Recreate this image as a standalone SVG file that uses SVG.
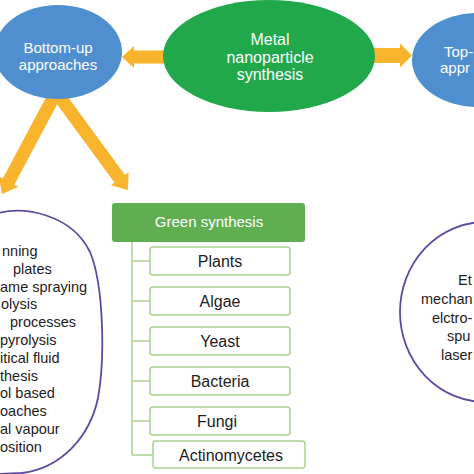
<svg xmlns="http://www.w3.org/2000/svg" width="474" height="474" viewBox="0 0 474 474">
<style>
text{font-family:"Liberation Sans",Arial,sans-serif}
.w{fill:#ffffff;font-size:15px;text-anchor:middle}
.big{font-size:16px}
.arrow{fill:#f8b42c}
.blue{fill:#4f8fd0}
.purple{fill:none;stroke:#5e4a9e;stroke-width:1.8}
.lst{font-size:14.5px;fill:#1e1c1d}
.box{fill:#ffffff;stroke:#a9d18e;stroke-width:1.5}
.bt{font-size:16px;fill:#1e1c1d;text-anchor:middle}
.tree{fill:none;stroke:#a9cf94;stroke-width:1.5}
</style>
<rect width="474" height="474" fill="#ffffff"/>
<g id="connectors">
<polygon class="arrow" points="172,50.5 134,50.5 134,46 122,57 134,68 134,63.5 172,63.5"/>
<polygon class="arrow" points="368,48 400,48 400,43.5 412,55.5 400,67.5 400,63 368,63"/>
<polygon class="arrow" points="48.86,92.05 2.83,178.59 -1.2,176.5 2,194 18.3,186.8 14.31,184.69 60.34,98.15"/>
<polygon class="arrow" points="51.86,97.14 114.49,182.56 110.9,185.2 128,190 128.6,172.2 124.97,174.88 62.34,89.46"/>
<path class="tree" d="M132,242 V455 M132,261 H150 M132,301 H150 M132,341 H150 M132,381 H150 M132,421 H150 M132,455 H153"/>
</g>
<g id="metal-synthesis">
<ellipse cx="269" cy="56" rx="106" ry="56" fill="#21a84b"/>
<text class="w big" x="270" y="45">Metal</text>
<text class="w big" x="270" y="63">nanoparticle</text>
<text class="w big" x="270" y="80">synthesis</text>
</g>
<g id="bottom-up">
<ellipse class="blue" cx="58" cy="52" rx="64" ry="47"/>
<text class="w" x="58" y="53">Bottom-up</text>
<text class="w" x="58" y="70">approaches</text>
</g>
<g id="top-down">
<ellipse class="blue" cx="478" cy="60" rx="66" ry="47"/>
<text class="w" x="444" y="57" style="text-anchor:start">Top-</text>
<text class="w" x="440" y="73" style="text-anchor:start">appr</text>
</g>
<g id="bottom-up-methods">
<path class="purple" d="M-5,214 C25,205 72,215 90,252 C104,285 105,360 98,398 C90,436 62,468 22,473 L-5,474"/>
<text class="lst" x="2" y="256">nning</text>
<text class="lst" x="13" y="273.8">plates</text>
<text class="lst" x="0" y="291.6">ame spraying</text>
<text class="lst" x="1" y="309.4">olysis</text>
<text class="lst" x="10" y="327.2">processes</text>
<text class="lst" x="0" y="345">pyrolysis</text>
<text class="lst" x="0" y="362.8">itical fluid</text>
<text class="lst" x="0" y="380.6">thesis</text>
<text class="lst" x="0" y="398.4">ol based</text>
<text class="lst" x="0" y="416.2">oaches</text>
<text class="lst" x="0" y="434">al vapour</text>
<text class="lst" x="0" y="451.8">osition</text>
</g>
<g id="top-down-methods">
<ellipse class="purple" cx="485" cy="312" rx="85" ry="90"/>
<text class="lst" x="458" y="285">Et</text>
<text class="lst" x="421" y="303.7">mechan</text>
<text class="lst" x="432" y="322.5">elctro-</text>
<text class="lst" x="447" y="341.2">spu</text>
<text class="lst" x="441" y="360">laser</text>
</g>
<g id="green-synthesis">
<rect x="112" y="203" width="193" height="39" rx="3" fill="#5fae50"/>
<text class="w" x="209" y="227">Green synthesis</text>
</g>
<g id="plants"><rect class="box" x="150" y="247" width="140" height="28" rx="3"/><text class="bt" x="220" y="267">Plants</text></g>
<g id="algae"><rect class="box" x="150" y="287" width="140" height="28" rx="3"/><text class="bt" x="220" y="307">Algae</text></g>
<g id="yeast"><rect class="box" x="150" y="327" width="140" height="28" rx="3"/><text class="bt" x="220" y="347">Yeast</text></g>
<g id="bacteria"><rect class="box" x="150" y="367" width="140" height="28" rx="3"/><text class="bt" x="220" y="387">Bacteria</text></g>
<g id="fungi"><rect class="box" x="150" y="407" width="140" height="28" rx="3"/><text class="bt" x="217" y="427">Fungi</text></g>
<g id="actinomycetes"><rect class="box" x="153" y="441" width="152" height="27" rx="3"/><text class="bt" x="231" y="461">Actinomycetes</text></g>
</svg>
